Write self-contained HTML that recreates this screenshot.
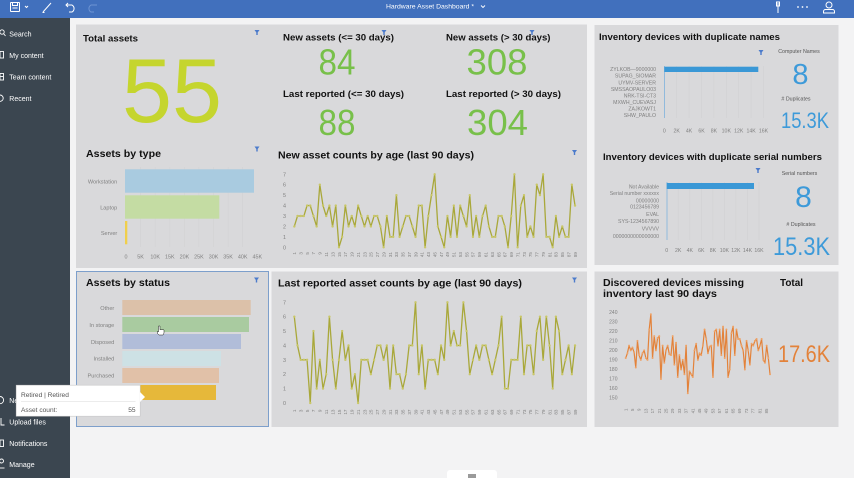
<!DOCTYPE html>
<html>
<head>
<meta charset="utf-8">
<style>
html,body{margin:0;padding:0;background:#f3f3f4;overflow:hidden;}
svg{display:block;}
text{font-family:"Liberation Sans",Arial,sans-serif;}
</style>
</head>
<body>
<svg width="854" height="478" viewBox="0 0 854 478" xmlns="http://www.w3.org/2000/svg">
  <!-- background -->
  <rect x="0" y="0" width="854" height="478" fill="#f3f3f4"/>
  <!-- top bar -->
  <rect x="0" y="0" width="854" height="18" fill="#4170bd"/>
  <!-- top bar icons -->
  <g fill="none" stroke="#ffffff" stroke-width="1">
    <rect x="10.5" y="2.5" width="9" height="9" rx="0.5"/>
    <rect x="12.5" y="2.5" width="5" height="3"/>
    <line x1="12.5" y1="8" x2="17.5" y2="8"/>
    <polyline points="25,6 26.5,7.5 28,6"/>
    <line x1="43" y1="12" x2="51" y2="3"/>
    <line x1="42.5" y1="12.5" x2="44.5" y2="12.5"/>
    <path d="M66 5 h6 a4 4 0 0 1 0 7 h-3"/>
    <polyline points="68,3 66,5 68,7"/>
  </g>
  <path d="M97 5 h-6 a4 4 0 0 0 0 7 h3" fill="none" stroke="#6d93d2" stroke-width="1"/>
  <text x="386" y="8.5" font-size="6.6" fill="#ffffff" textLength="88" lengthAdjust="spacingAndGlyphs">Hardware Asset Dashboard *</text>
  <polyline points="481,5.5 483,7.5 485,5.5" fill="none" stroke="#fff" stroke-width="0.9"/>
  <g fill="none" stroke="#ffffff" stroke-width="1">
    <line x1="778" y1="3" x2="778" y2="13"/>
    <rect x="776.5" y="2" width="3" height="4"/>
    <circle cx="829" cy="5" r="3"/>
    <path d="M823.5 13 v-1.5 a2 2 0 0 1 2 -2 h7 a2 2 0 0 1 2 2 v1.5 z"/>
  </g>
  <g fill="#ffffff">
    <circle cx="798" cy="7" r="0.9"/><circle cx="802.5" cy="7" r="0.9"/><circle cx="807" cy="7" r="0.9"/>
  </g>

  <!-- sidebar -->
  <rect x="0" y="18" width="70" height="460" fill="#3b4650"/>
  <g fill="none" stroke="#ffffff" stroke-width="0.9">
    <circle cx="2" cy="32" r="2.2"/>
    <line x1="3.5" y1="33.5" x2="5.5" y2="36"/>
    <rect x="0" y="51.5" width="3.5" height="6.5"/>
    <rect x="0" y="73.5" width="3.5" height="6.5"/>
    <line x1="0.5" y1="76.5" x2="3" y2="76.5"/>
    <path d="M0 95 a3.2 3.2 0 0 1 0 6.4"/>
    <path d="M0 396.5 a3.6 3.6 0 0 1 0 7.2"/>
    <polyline points="1,418 1,425 4.5,425"/>
    <rect x="0" y="440" width="3.5" height="6.5"/>
    <circle cx="1.5" cy="461" r="2"/>
    <line x1="0" y1="468" x2="4.5" y2="468"/>
  </g>
  <g font-size="7" fill="#ffffff">
    <text x="9.3" y="36.3">Search</text>
    <text x="9.3" y="57.8">My content</text>
    <text x="9.3" y="79.5">Team content</text>
    <text x="9.3" y="100.8">Recent</text>
    <text x="9.3" y="402.8">New</text>
    <text x="9.3" y="424.5">Upload files</text>
    <text x="9.3" y="445.8">Notifications</text>
    <text x="9.3" y="467.2">Manage</text>
  </g>

  <!-- panels -->
  <rect x="76" y="24.5" width="511" height="243.5" fill="#d9d9db"/>
  <rect x="594.5" y="25" width="244" height="240" fill="#d9d9db"/>
  <rect x="76.5" y="271.5" width="192" height="155" fill="#d9d9db" stroke="#7d9fcb" stroke-width="1"/>
  <rect x="271.5" y="271.5" width="315.5" height="155.5" fill="#d9d9db"/>
  <rect x="594.5" y="271.5" width="244" height="155.5" fill="#d9d9db"/>

  <!-- filter icons -->
  <g fill="#4c7bcb">
    <polygon points="254.5,30 259.5,30 257.7,32.5 257.7,35 256.3,35 256.3,32.5"/>
    <polygon points="381.5,30 386.5,30 384.7,32.5 384.7,35 383.3,35 383.3,32.5"/>
    <polygon points="529.5,30 534.5,30 532.7,32.5 532.7,35 531.3,35 531.3,32.5"/>
    <polygon points="254.5,146.5 259.5,146.5 257.7,149 257.7,151.5 256.3,151.5 256.3,149"/>
    <polygon points="572,150 577,150 575.2,152.5 575.2,155 573.8,155 573.8,152.5"/>
    <polygon points="758.5,50 763.5,50 761.7,52.5 761.7,55 760.3,55 760.3,52.5"/>
    <polygon points="755.5,168 760.5,168 758.7,170.5 758.7,173 757.3,173 757.3,170.5"/>
    <polygon points="254,277.5 259,277.5 257.2,280 257.2,282.5 255.8,282.5 255.8,280"/>
    <polygon points="572,277.5 577,277.5 575.2,280 575.2,282.5 573.8,282.5 573.8,280"/>
  </g>

  <!-- KPI titles -->
  <g font-weight="bold" fill="#111">
    <text x="83" y="41.5" font-size="9.4" textLength="55" lengthAdjust="spacingAndGlyphs">Total assets</text>
    <text x="283" y="40.7" font-size="9.4" textLength="111" lengthAdjust="spacingAndGlyphs">New assets (&lt;= 30 days)</text>
    <text x="446" y="40.7" font-size="9.4" textLength="104.5" lengthAdjust="spacingAndGlyphs">New assets (&gt; 30 days)</text>
    <text x="283" y="97" font-size="9.4" textLength="121" lengthAdjust="spacingAndGlyphs">Last reported (&lt;= 30 days)</text>
    <text x="446" y="97" font-size="9.4" textLength="115" lengthAdjust="spacingAndGlyphs">Last reported (&gt; 30 days)</text>
  </g>
  <text x="122" y="122" font-size="91" fill="#c5d52e" textLength="100" lengthAdjust="spacingAndGlyphs">55</text>
  <g font-size="36" fill="#78c04a" text-anchor="middle">
    <text x="337" y="74.5" textLength="37" lengthAdjust="spacingAndGlyphs">84</text>
    <text x="497" y="74.5" textLength="61" lengthAdjust="spacingAndGlyphs">308</text>
    <text x="337" y="135" textLength="37" lengthAdjust="spacingAndGlyphs">88</text>
    <text x="497.5" y="135" textLength="61" lengthAdjust="spacingAndGlyphs">304</text>
  </g>

  <!-- Assets by type -->
  <text x="86" y="157" font-size="10.5" font-weight="bold" fill="#111" textLength="75" lengthAdjust="spacingAndGlyphs">Assets by type</text>
  <g stroke="#d2d2d4" stroke-width="0.6">
    <line x1="140.6" y1="167" x2="140.6" y2="247"/><line x1="155.2" y1="167" x2="155.2" y2="247"/>
    <line x1="169.8" y1="167" x2="169.8" y2="247"/><line x1="184.4" y1="167" x2="184.4" y2="247"/>
    <line x1="198.9" y1="167" x2="198.9" y2="247"/><line x1="213.5" y1="167" x2="213.5" y2="247"/>
    <line x1="228.1" y1="167" x2="228.1" y2="247"/><line x1="242.7" y1="167" x2="242.7" y2="247"/>
  </g>
  <rect x="125" y="169.3" width="129" height="23.4" fill="#a9cbe0"/>
  <rect x="125" y="195.3" width="94.3" height="23.4" fill="#c4dca3"/>
  <rect x="125" y="221" width="2.3" height="23.3" fill="#f0cf4c"/>
  <g font-size="5.6" fill="#808080" text-anchor="end">
    <text x="117.3" y="183.7">Workstation</text>
    <text x="117.3" y="209.3">Laptop</text>
    <text x="117.3" y="235">Server</text>
  </g>
  <g font-size="5.4" fill="#808080" text-anchor="middle">
    <text x="126" y="258.6">0</text><text x="140.6" y="258.6">5K</text><text x="155.2" y="258.6">10K</text>
    <text x="169.8" y="258.6">15K</text><text x="184.4" y="258.6">20K</text><text x="198.9" y="258.6">25K</text>
    <text x="213.5" y="258.6">30K</text><text x="228.1" y="258.6">35K</text><text x="242.7" y="258.6">40K</text>
    <text x="257.3" y="258.6">45K</text>
  </g>

  <!-- New asset counts chart -->
  <text x="278" y="158.5" font-size="10" font-weight="bold" fill="#111" textLength="196" lengthAdjust="spacingAndGlyphs">New asset counts by age (last 90 days)</text>
  <g font-size="5.4" fill="#808080" text-anchor="middle">
    <text x="284.5" y="249.3">0</text><text x="284.5" y="238.9">1</text><text x="284.5" y="228.5">2</text>
    <text x="284.5" y="218">3</text><text x="284.5" y="207.6">4</text><text x="284.5" y="197.2">5</text>
    <text x="284.5" y="186.7">6</text><text x="284.5" y="176.3">7</text>
  </g>
  <g transform="translate(294.3,247.3) scale(3.19,-10.43)">
    <polyline fill="none" stroke="#a9a83a" stroke-width="1.3" vector-effect="non-scaling-stroke" stroke-linejoin="round"
      points="0,2 1,3 2,3 3,3 4,4 5,4 6,3 7,2 8,6 9,4 10,3 11,4 12,2 13,4 14,0 15,1 16,4 17,2 18,3 19,2 20,4 21,3 22,2 23,3 24,2 25,3 26,3 27,2 28,0 29,3 30,1 31,1 32,5 33,1 34,2 35,3 36,3 37,2 38,1 39,4 40,4 41,0 42,3 43,5 44,7 45,2 46,1 47,0 48,3 49,1 50,4 51,1 52,4 53,3 54,2 55,5 56,1 57,3 58,1 59,3 60,4 61,2 62,1 63,1 64,3 65,3 66,2 67,0 68,3 69,7 70,0 71,4 72,5 73,1 74,2 75,1 76,6 77,5 78,7 79,1 80,1 81,0 82,3 83,1 84,2 85,1 86,1 87,6 88,4"/>
    <path fill="none" stroke="#c9c768" stroke-width="2.4" stroke-linecap="round" vector-effect="non-scaling-stroke"
      d="M0,2h.01M1,3h.01M2,3h.01M3,3h.01M4,4h.01M5,4h.01M6,3h.01M7,2h.01M8,6h.01M9,4h.01M10,3h.01M11,4h.01M12,2h.01M13,4h.01M14,0h.01M15,1h.01M16,4h.01M17,2h.01M18,3h.01M19,2h.01M20,4h.01M21,3h.01M22,2h.01M23,3h.01M24,2h.01M25,3h.01M26,3h.01M27,2h.01M28,0h.01M29,3h.01M30,1h.01M31,1h.01M32,5h.01M33,1h.01M34,2h.01M35,3h.01M36,3h.01M37,2h.01M38,1h.01M39,4h.01M40,4h.01M41,0h.01M42,3h.01M43,5h.01M44,7h.01M45,2h.01M46,1h.01M47,0h.01M48,3h.01M49,1h.01M50,4h.01M51,1h.01M52,4h.01M53,3h.01M54,2h.01M55,5h.01M56,1h.01M57,3h.01M58,1h.01M59,3h.01M60,4h.01M61,2h.01M62,1h.01M63,1h.01M64,3h.01M65,3h.01M66,2h.01M67,0h.01M68,3h.01M69,7h.01M70,0h.01M71,4h.01M72,5h.01M73,1h.01M74,2h.01M75,1h.01M76,6h.01M77,5h.01M78,7h.01M79,1h.01M80,1h.01M81,0h.01M82,3h.01M83,1h.01M84,2h.01M85,1h.01M86,1h.01M87,6h.01M88,4h.01"/>
  </g>
  <g transform="translate(0,252) rotate(-90)" font-size="4.6" fill="#808080" text-anchor="end">
    <text><tspan x="0" y="296.1">1</tspan><tspan x="0" y="302.5">3</tspan><tspan x="0" y="308.9">5</tspan><tspan x="0" y="315.2">7</tspan><tspan x="0" y="321.6">9</tspan><tspan x="0" y="328">11</tspan><tspan x="0" y="334.4">13</tspan><tspan x="0" y="340.8">15</tspan><tspan x="0" y="347.1">17</tspan><tspan x="0" y="353.5">19</tspan><tspan x="0" y="359.9">21</tspan><tspan x="0" y="366.3">23</tspan><tspan x="0" y="372.7">25</tspan><tspan x="0" y="379">27</tspan><tspan x="0" y="385.4">29</tspan><tspan x="0" y="391.8">31</tspan><tspan x="0" y="398.2">33</tspan><tspan x="0" y="404.6">35</tspan><tspan x="0" y="410.9">37</tspan><tspan x="0" y="417.3">39</tspan><tspan x="0" y="423.7">41</tspan><tspan x="0" y="430.1">43</tspan><tspan x="0" y="436.5">45</tspan><tspan x="0" y="442.8">47</tspan><tspan x="0" y="449.2">49</tspan><tspan x="0" y="455.6">51</tspan><tspan x="0" y="462">53</tspan><tspan x="0" y="468.4">55</tspan><tspan x="0" y="474.7">57</tspan><tspan x="0" y="481.1">59</tspan><tspan x="0" y="487.5">61</tspan><tspan x="0" y="493.9">63</tspan><tspan x="0" y="500.3">65</tspan><tspan x="0" y="506.6">67</tspan><tspan x="0" y="513">69</tspan><tspan x="0" y="519.4">71</tspan><tspan x="0" y="525.8">73</tspan><tspan x="0" y="532.2">75</tspan><tspan x="0" y="538.5">77</tspan><tspan x="0" y="544.9">79</tspan><tspan x="0" y="551.3">81</tspan><tspan x="0" y="557.7">83</tspan><tspan x="0" y="564.1">85</tspan><tspan x="0" y="570.4">87</tspan><tspan x="0" y="576.8">89</tspan></text>
  </g>

  <!-- Last reported chart -->
  <text x="278" y="286.5" font-size="10" font-weight="bold" fill="#111" textLength="244" lengthAdjust="spacingAndGlyphs">Last reported asset counts by age (last 90 days)</text>
  <g font-size="5.4" fill="#808080" text-anchor="middle">
    <text x="284.5" y="405">0</text><text x="284.5" y="390.6">1</text><text x="284.5" y="376.2">2</text>
    <text x="284.5" y="361.8">3</text><text x="284.5" y="347.4">4</text><text x="284.5" y="333">5</text>
    <text x="284.5" y="318.7">6</text><text x="284.5" y="304.3">7</text>
  </g>
  <g transform="translate(294.3,403) scale(3.19,-14.39)">
    <polyline fill="none" stroke="#a9a83a" stroke-width="1.3" vector-effect="non-scaling-stroke" stroke-linejoin="round"
      points="0,6 1,4 2,3 3,3 4,3 5,0 6,5 7,1 8,3 9,1 10,2 11,6 12,3 13,1 14,3 15,5 16,3 17,4 18,1 19,2 20,0 21,3 22,3 23,3 24,2 25,3 26,4 27,4 28,3 29,4 30,1 31,4 32,2 33,2 34,1 35,2 36,4 37,4 38,7 39,2 40,4 41,1 42,3 43,3 44,3 45,2 46,4 47,3 48,7 49,4 50,5 51,4 52,4 53,7 54,5 55,2 56,3 57,4 58,3 59,4 60,4 61,3 62,2 63,3 64,4 65,6 66,1 67,1 68,3 69,3 70,3 71,6 72,2 73,4 74,4 75,2 76,5 77,6 78,3 79,6 80,4 81,1 82,6 83,5 84,2 85,3 86,4 87,2 88,4"/>
    <path fill="none" stroke="#c9c768" stroke-width="2.4" stroke-linecap="round" vector-effect="non-scaling-stroke"
      d="M0,6h.01M1,4h.01M2,3h.01M3,3h.01M4,3h.01M5,0h.01M6,5h.01M7,1h.01M8,3h.01M9,1h.01M10,2h.01M11,6h.01M12,3h.01M13,1h.01M14,3h.01M15,5h.01M16,3h.01M17,4h.01M18,1h.01M19,2h.01M20,0h.01M21,3h.01M22,3h.01M23,3h.01M24,2h.01M25,3h.01M26,4h.01M27,4h.01M28,3h.01M29,4h.01M30,1h.01M31,4h.01M32,2h.01M33,2h.01M34,1h.01M35,2h.01M36,4h.01M37,4h.01M38,7h.01M39,2h.01M40,4h.01M41,1h.01M42,3h.01M43,3h.01M44,3h.01M45,2h.01M46,4h.01M47,3h.01M48,7h.01M49,4h.01M50,5h.01M51,4h.01M52,4h.01M53,7h.01M54,5h.01M55,2h.01M56,3h.01M57,4h.01M58,3h.01M59,4h.01M60,4h.01M61,3h.01M62,2h.01M63,3h.01M64,4h.01M65,6h.01M66,1h.01M67,1h.01M68,3h.01M69,3h.01M70,3h.01M71,6h.01M72,2h.01M73,4h.01M74,4h.01M75,2h.01M76,5h.01M77,6h.01M78,3h.01M79,6h.01M80,4h.01M81,1h.01M82,6h.01M83,5h.01M84,2h.01M85,3h.01M86,4h.01M87,2h.01M88,4h.01"/>
  </g>
  <g transform="translate(0,409.5) rotate(-90)" font-size="4.6" fill="#808080" text-anchor="end">
    <text><tspan x="0" y="296.1">1</tspan><tspan x="0" y="302.5">3</tspan><tspan x="0" y="308.9">5</tspan><tspan x="0" y="315.2">7</tspan><tspan x="0" y="321.6">9</tspan><tspan x="0" y="328">11</tspan><tspan x="0" y="334.4">13</tspan><tspan x="0" y="340.8">15</tspan><tspan x="0" y="347.1">17</tspan><tspan x="0" y="353.5">19</tspan><tspan x="0" y="359.9">21</tspan><tspan x="0" y="366.3">23</tspan><tspan x="0" y="372.7">25</tspan><tspan x="0" y="379">27</tspan><tspan x="0" y="385.4">29</tspan><tspan x="0" y="391.8">31</tspan><tspan x="0" y="398.2">33</tspan><tspan x="0" y="404.6">35</tspan><tspan x="0" y="410.9">37</tspan><tspan x="0" y="417.3">39</tspan><tspan x="0" y="423.7">41</tspan><tspan x="0" y="430.1">43</tspan><tspan x="0" y="436.5">45</tspan><tspan x="0" y="442.8">47</tspan><tspan x="0" y="449.2">49</tspan><tspan x="0" y="455.6">51</tspan><tspan x="0" y="462">53</tspan><tspan x="0" y="468.4">55</tspan><tspan x="0" y="474.7">57</tspan><tspan x="0" y="481.1">59</tspan><tspan x="0" y="487.5">61</tspan><tspan x="0" y="493.9">63</tspan><tspan x="0" y="500.3">65</tspan><tspan x="0" y="506.6">67</tspan><tspan x="0" y="513">69</tspan><tspan x="0" y="519.4">71</tspan><tspan x="0" y="525.8">73</tspan><tspan x="0" y="532.2">75</tspan><tspan x="0" y="538.5">77</tspan><tspan x="0" y="544.9">79</tspan><tspan x="0" y="551.3">81</tspan><tspan x="0" y="557.7">83</tspan><tspan x="0" y="564.1">85</tspan><tspan x="0" y="570.4">87</tspan><tspan x="0" y="576.8">89</tspan></text>
  </g>

  <!-- Assets by status -->
  <text x="86" y="286" font-size="10.5" font-weight="bold" fill="#111" textLength="84" lengthAdjust="spacingAndGlyphs">Assets by status</text>
  <rect x="122.3" y="300" width="128.4" height="15" fill="#dcc1a9"/>
  <rect x="122.3" y="317" width="126.7" height="15" fill="#a9cba0"/>
  <rect x="122.3" y="334" width="118.7" height="15" fill="#b1bdd9"/>
  <rect x="122.3" y="351" width="98.7" height="15" fill="#cde1e5"/>
  <rect x="122.3" y="368" width="96.7" height="15" fill="#e1c1a8"/>
  <rect x="122.3" y="385" width="93.7" height="15" fill="#e6b83a"/>
  <g font-size="5.6" fill="#808080" text-anchor="end">
    <text x="114.3" y="310">Other</text>
    <text x="114.3" y="327">In storage</text>
    <text x="114.3" y="344">Disposed</text>
    <text x="114.3" y="360.7">Installed</text>
    <text x="114.3" y="377.7">Purchased</text>
  </g>
  <!-- cursor -->
  <path d="M158.5 326 v6 l-1 -1 v2.5 l1.5 1.5 h4 l1 -2 v-3 l-1 -0.5 l-1 0.3 l-1 -0.3 l-1 0.3 v-3.8 z" fill="#ffffff" stroke="#222" stroke-width="0.5"/>

  <!-- tooltip -->
  <rect x="16.2" y="385.2" width="124" height="31" fill="#ffffff" stroke="#c8c8c8" stroke-width="0.6"/>
  <polygon points="140,392 145,397 140,402" fill="#ffffff"/>
  <text x="21" y="397" font-size="6.6" fill="#555">Retired | Retired</text>
  <line x1="21" y1="401.3" x2="135.5" y2="401.3" stroke="#e0e0e0" stroke-width="0.6"/>
  <text x="21" y="412" font-size="6.6" fill="#555">Asset count:</text>
  <text x="135.6" y="412" font-size="6.6" fill="#555" text-anchor="end">55</text>

  <!-- Inventory duplicate names -->
  <text x="599" y="40" font-size="9.6" font-weight="bold" fill="#111" textLength="181" lengthAdjust="spacingAndGlyphs">Inventory devices with duplicate names</text>
  <g stroke="#d1d1d3" stroke-width="0.6">
    <line x1="676.7" y1="66" x2="676.7" y2="118"/><line x1="689.1" y1="66" x2="689.1" y2="118"/>
    <line x1="701.5" y1="66" x2="701.5" y2="118"/><line x1="713.9" y1="66" x2="713.9" y2="118"/>
    <line x1="726.3" y1="66" x2="726.3" y2="118"/><line x1="738.7" y1="66" x2="738.7" y2="118"/>
    <line x1="751.1" y1="66" x2="751.1" y2="118"/><line x1="763.5" y1="66" x2="763.5" y2="118"/>
  </g>
  <line x1="664.5" y1="66" x2="664.5" y2="118" stroke="#7fb3dc" stroke-width="0.8"/>
  <rect x="664.3" y="66.7" width="94" height="5.3" fill="#3a98d6"/>
  <g font-size="5.2" fill="#808080" text-anchor="end">
    <text x="656" y="71.2">ZYLKOB—9000000</text>
    <text x="656" y="77.7">SUPAG_SIOMAR</text>
    <text x="656" y="84.3">UYMV-SERVER</text>
    <text x="656" y="90.8">SMSSAOPAULO03</text>
    <text x="656" y="97.4">NRK-TSI-CT3</text>
    <text x="656" y="103.9">MXWH_CUEVASJ</text>
    <text x="656" y="110.5">ZAJKOWT1</text>
    <text x="656" y="117">SHW_PAULO</text>
  </g>
  <g font-size="5.2" fill="#808080" text-anchor="middle">
    <text x="664.3" y="132.5">0</text><text x="676.7" y="132.5">2K</text><text x="689.1" y="132.5">4K</text>
    <text x="701.5" y="132.5">6K</text><text x="713.9" y="132.5">8K</text><text x="726.3" y="132.5">10K</text>
    <text x="738.7" y="132.5">12K</text><text x="751.1" y="132.5">14K</text><text x="763.5" y="132.5">16K</text>
  </g>
  <text x="799" y="53" font-size="5.3" fill="#555" text-anchor="middle">Computer Names</text>
  <text x="800.5" y="84" font-size="29" fill="#3d9ad9" text-anchor="middle">8</text>
  <text x="796" y="100.5" font-size="5.3" fill="#555" text-anchor="middle"># Duplicates</text>
  <text x="781" y="128" font-size="22" fill="#3d9ad9" textLength="48" lengthAdjust="spacingAndGlyphs">15.3K</text>

  <!-- Inventory duplicate serial numbers -->
  <text x="603" y="160" font-size="9.6" font-weight="bold" fill="#111" textLength="219" lengthAdjust="spacingAndGlyphs">Inventory devices with duplicate serial numbers</text>
  <g stroke="#d1d1d3" stroke-width="0.6">
    <line x1="678.2" y1="182" x2="678.2" y2="240"/><line x1="689.8" y1="182" x2="689.8" y2="240"/>
    <line x1="701.3" y1="182" x2="701.3" y2="240"/><line x1="712.9" y1="182" x2="712.9" y2="240"/>
    <line x1="724.4" y1="182" x2="724.4" y2="240"/><line x1="735.9" y1="182" x2="735.9" y2="240"/>
    <line x1="747.5" y1="182" x2="747.5" y2="240"/><line x1="759" y1="182" x2="759" y2="240"/>
  </g>
  <line x1="667" y1="182" x2="667" y2="240" stroke="#7fb3dc" stroke-width="0.8"/>
  <rect x="666.7" y="183" width="87.3" height="6" fill="#3a98d6"/>
  <g font-size="5.2" fill="#808080" text-anchor="end">
    <text x="659" y="188.5">Not Available</text>
    <text x="659" y="195.1">Serial number xxxxxx</text>
    <text x="659" y="202.5">00000000</text>
    <text x="659" y="208.5">0123456789</text>
    <text x="659" y="215.8">EVAL</text>
    <text x="659" y="223.1">SYS-1234567890</text>
    <text x="659" y="230.5">VVVVV</text>
    <text x="659" y="237.8">0000000000000000</text>
  </g>
  <g font-size="5.2" fill="#808080" text-anchor="middle">
    <text x="666.7" y="252">0</text><text x="678.2" y="252">2K</text><text x="689.8" y="252">4K</text>
    <text x="701.3" y="252">6K</text><text x="712.9" y="252">8K</text><text x="724.4" y="252">10K</text>
    <text x="735.9" y="252">12K</text><text x="747.5" y="252">14K</text><text x="759" y="252">16K</text>
  </g>
  <text x="799.5" y="175" font-size="5.3" fill="#555" text-anchor="middle">Serial numbers</text>
  <text x="803.5" y="207" font-size="30" fill="#3d9ad9" text-anchor="middle">8</text>
  <text x="801" y="226" font-size="5.3" fill="#555" text-anchor="middle"># Duplicates</text>
  <text x="773" y="255" font-size="25" fill="#3d9ad9" textLength="57" lengthAdjust="spacingAndGlyphs">15.3K</text>

  <!-- Discovered devices -->
  <g font-size="9.8" font-weight="bold" fill="#111">
    <text x="603" y="286" textLength="141" lengthAdjust="spacingAndGlyphs">Discovered devices missing</text>
    <text x="603" y="297" textLength="114" lengthAdjust="spacingAndGlyphs">inventory last 90 days</text>
    <text x="780" y="286" textLength="23" lengthAdjust="spacingAndGlyphs">Total</text>
  </g>
  <g font-size="5" fill="#808080" text-anchor="end">
    <text x="617.5" y="314">240</text><text x="617.5" y="323.5">230</text><text x="617.5" y="333">220</text>
    <text x="617.5" y="342.6">210</text><text x="617.5" y="352.1">200</text><text x="617.5" y="361.6">190</text>
    <text x="617.5" y="371.1">180</text><text x="617.5" y="380.6">170</text><text x="617.5" y="390.2">160</text>
    <text x="617.5" y="399.7">150</text>
  </g>
  <g transform="translate(625.7,540.8) scale(1.678,-0.952)">
    <polyline fill="none" stroke="#e3823a" stroke-width="1.2" vector-effect="non-scaling-stroke" stroke-linejoin="round"
      points="0,192 1,197 2,205 3,200 4,203 5,198 6,182 7,210 8,195 9,190 10,197 11,200 12,192 13,190 14,222 15,238 16,192 17,215 18,200 19,213 20,215 21,170 22,205 23,187 24,200 25,205 26,196 27,195 28,215 29,185 30,208 31,172 32,195 33,180 34,190 35,175 36,205 37,155 38,178 39,175 40,172 41,200 42,207 43,190 44,197 45,195 46,205 47,222 48,212 49,197 50,204 51,205 52,172 53,220 54,222 55,205 56,222 57,195 58,225 59,192 60,222 61,172 62,180 63,218 64,225 65,195 66,222 67,212 68,212 69,205 70,200 71,180 72,210 73,200 74,185 75,207 76,205 77,210 78,212 79,200 80,205 81,212 82,190 83,187 84,205 85,192 86,175"/>
    <path fill="none" stroke="#eea266" stroke-width="2" stroke-linecap="round" vector-effect="non-scaling-stroke"
      d="M0,192h.01M1,197h.01M2,205h.01M3,200h.01M4,203h.01M5,198h.01M6,182h.01M7,210h.01M8,195h.01M9,190h.01M10,197h.01M11,200h.01M12,192h.01M13,190h.01M14,222h.01M15,238h.01M16,192h.01M17,215h.01M18,200h.01M19,213h.01M20,215h.01M21,170h.01M22,205h.01M23,187h.01M24,200h.01M25,205h.01M26,196h.01M27,195h.01M28,215h.01M29,185h.01M30,208h.01M31,172h.01M32,195h.01M33,180h.01M34,190h.01M35,175h.01M36,205h.01M37,155h.01M38,178h.01M39,175h.01M40,172h.01M41,200h.01M42,207h.01M43,190h.01M44,197h.01M45,195h.01M46,205h.01M47,222h.01M48,212h.01M49,197h.01M50,204h.01M51,205h.01M52,172h.01M53,220h.01M54,222h.01M55,205h.01M56,222h.01M57,195h.01M58,225h.01M59,192h.01M60,222h.01M61,172h.01M62,180h.01M63,218h.01M64,225h.01M65,195h.01M66,222h.01M67,212h.01M68,212h.01M69,205h.01M70,200h.01M71,180h.01M72,210h.01M73,200h.01M74,185h.01M75,207h.01M76,205h.01M77,210h.01M78,212h.01M79,200h.01M80,205h.01M81,212h.01M82,190h.01M83,187h.01M84,205h.01M85,192h.01M86,175h.01"/>
  </g>
  <g transform="translate(0,408.5) rotate(-90)" font-size="4.4" fill="#808080" text-anchor="end">
    <text><tspan x="0" y="627.3">1</tspan><tspan x="0" y="634">5</tspan><tspan x="0" y="640.7">9</tspan><tspan x="0" y="647.4">13</tspan><tspan x="0" y="654.1">17</tspan><tspan x="0" y="660.8">21</tspan><tspan x="0" y="667.5">25</tspan><tspan x="0" y="674.2">29</tspan><tspan x="0" y="680.9">33</tspan><tspan x="0" y="687.6">37</tspan><tspan x="0" y="694.3">41</tspan><tspan x="0" y="701">45</tspan><tspan x="0" y="707.7">49</tspan><tspan x="0" y="714.4">53</tspan><tspan x="0" y="721.1">57</tspan><tspan x="0" y="727.8">61</tspan><tspan x="0" y="734.5">65</tspan><tspan x="0" y="741.2">69</tspan><tspan x="0" y="747.9">73</tspan><tspan x="0" y="754.6">77</tspan><tspan x="0" y="761.3">81</tspan><tspan x="0" y="768">85</tspan></text>
  </g>
  <text x="778" y="362" font-size="24" fill="#e3823a" textLength="52" lengthAdjust="spacingAndGlyphs">17.6K</text>

  <!-- bottom tab -->
  <path d="M447 478 v-5 a3 3 0 0 1 3 -3 h44 a3 3 0 0 1 3 3 v5 z" fill="#ffffff"/>
  <rect x="468" y="474" width="8" height="4" fill="#9a9a9a"/>
</svg>
</body>
</html>
